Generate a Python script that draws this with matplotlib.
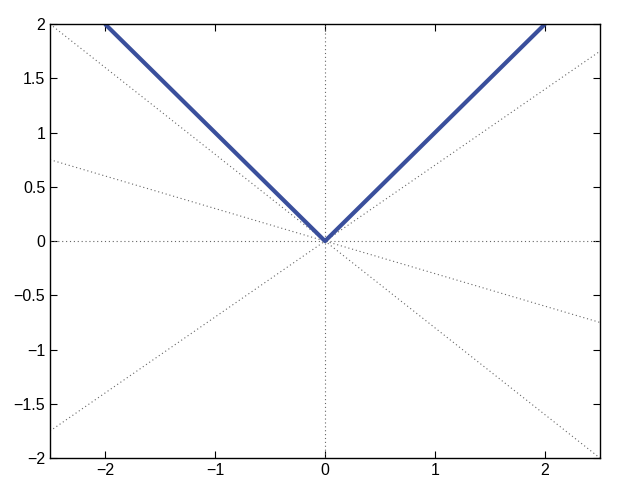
import numpy as np
import matplotlib.pyplot as plt

plt.rcParams["font.family"] = ["Liberation Sans", "DejaVu Sans"]

# V-shaped solid curve y = |x|
v_x = [-2, 0, 2]
v_y = [2, 0, 2]

# dotted reference lines through the origin (slopes)
slopes = [0.7, -0.3, -0.8]
x_range = [-2.5, 2.5]

xticks = [-2, -1, 0, 1, 2]
yticks = [-2, -1.5, -1, -0.5, 0, 0.5, 1, 1.5, 2]

fig = plt.figure(figsize=(6.37, 4.90), dpi=100)
ax = fig.add_axes([0.0785, 0.065, 0.8635, 0.886])

dot = dict(color="#666666", linestyle=(0, (1, 2.5)), linewidth=0.8)

# axis lines
ax.axhline(0, **dot)
ax.axvline(0, **dot)

xs = np.array(x_range)
for s in slopes:
    ax.plot(xs, s * xs, **dot)

ax.plot(v_x, v_y, color="#3a4f9c", linewidth=3, solid_capstyle="butt")

ax.set_xlim(x_range)
ax.set_ylim(-2, 2)
ax.set_xticks(xticks)
ax.set_yticks(yticks)
ax.set_xticklabels([f"{t:g}".replace("-", "\u2212") for t in xticks])
ax.set_yticklabels([f"{t:g}".replace("-", "\u2212") for t in yticks])
ax.tick_params(direction="in", top=True, right=True, length=5, labelsize=11.5)
for sp in ax.spines.values():
    sp.set_linewidth(1.0)

fig.savefig("out.png", dpi=100)
